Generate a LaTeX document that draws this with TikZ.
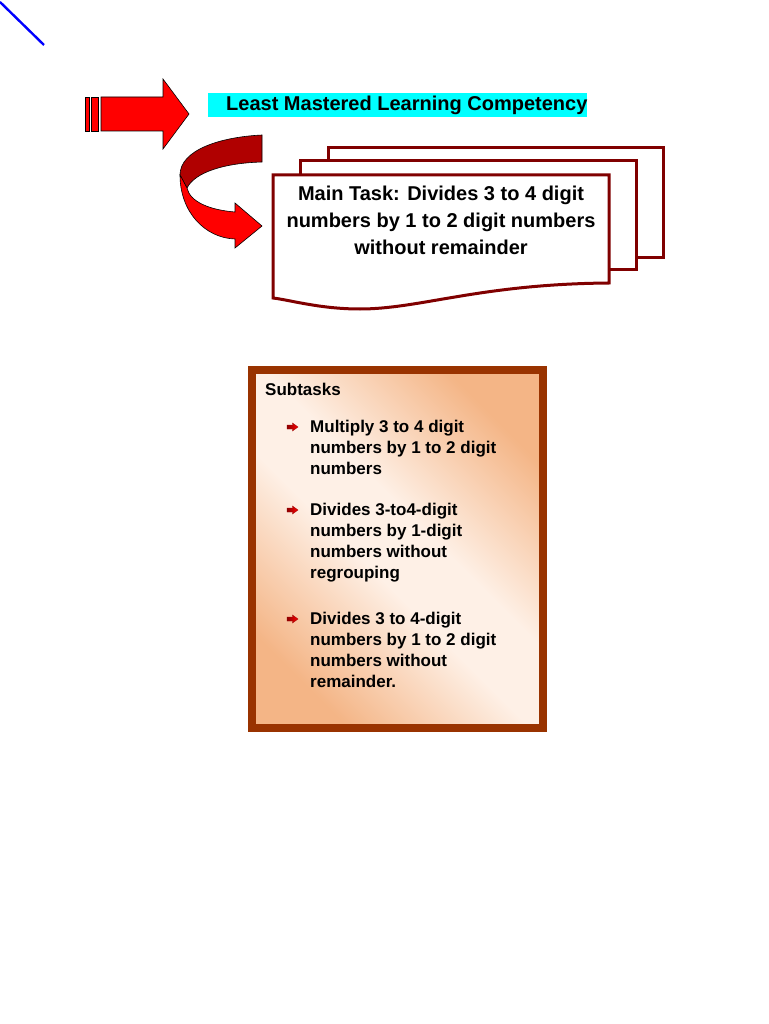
\documentclass[tikz,border=0pt]{standalone}
\usepackage{fontspec}
\setmainfont{Liberation Sans}
\definecolor{peach}{HTML}{F4B586}
\definecolor{peachlight}{HTML}{FEF0E6}
\pgfdeclareverticalshading{boxshade}{100bp}{color(0bp)=(peach); color(25bp)=(peach); color(45bp)=(peachlight); color(55bp)=(peachlight); color(75bp)=(peach); color(100bp)=(peach)}
\begin{document}
\begin{tikzpicture}[x=1pt,y=-1pt,
  docpage/.style={draw=docred,line width=3pt,fill=white,line join=miter},
  redshape/.style={fill=arrred,draw=black,line width=0.6pt,line join=miter},
  darkshape/.style={fill=arrdark,draw=black,line width=0.6pt},
  bigtxt/.style={font=\bfseries\fontsize{20}{27}\selectfont,inner sep=0pt},
  subtxt/.style={font=\bfseries\fontsize{17}{21}\selectfont,inner sep=0pt,align=left,anchor=north west},
  bul/.pic={\path[shading=axis,left color=arrdark!80!black,right color=arrred,draw=arrred!60!black,line width=0.3pt]
      (-5.5,-2) -- (0,-2) -- (0,-4) -- (5.5,0) -- (0,4) -- (0,2) -- (-5.5,2) -- cycle;}
]
\definecolor{docred}{HTML}{800000}
\definecolor{arrred}{HTML}{FF0000}
\definecolor{arrdark}{HTML}{B00000}
\definecolor{boxbrown}{HTML}{993300}
\definecolor{labelcyan}{HTML}{00FFFF}
\useasboundingbox (0,0) rectangle (768,1024);

% blue line
\coordinate (b1) at (0,2);
\coordinate (b2) at (44,45);
\draw[blue,line width=2.4pt] (b1) -- (b2);

% striped arrow
\path[redshape] (85,97) rectangle (89,131);
\path[redshape] (91,97) rectangle (98,131);
\path[redshape] (101,97) -- (163,97) -- (163,79) -- (189,114) -- (163,149) -- (163,131) -- (101,131) -- cycle;

% title label
\fill[labelcyan] (208,93) rectangle (587,117);
\node[bigtxt,anchor=base west] (title) at (226,111) {Least Mastered Learning Competency};

% curved arrow
\path[darkshape] (262,135) .. controls (220,137) and (180,150) .. (180,175)
   -- (187,188) .. controls (195,172) and (225,163) .. (262,162) -- cycle;
\path[redshape] (180,175) .. controls (180,212) and (205,238) .. (235,239)
   -- (235,248) -- (262,226) -- (235,203) -- (235,212)
   .. controls (210,210) and (190,202) .. (187,188) -- cycle;

% document stack
\path[docpage] (328,148) rectangle (663,257);
\path[docpage] (300,161) rectangle (636,269);
\path[docpage] (273,175) -- (609,175) -- (609,283)
   .. controls (480,284) and (420,309) .. (360,309)
   .. controls (320,309) and (290,300) .. (273,298) -- cycle;
\node[bigtxt,align=center,anchor=north] (main) at (441,185.5)
  {Main Task: Divides 3 to 4 digit\\numbers by 1 to 2 digit numbers\\without remainder};

% subtasks box
\path[draw=boxbrown,line width=8pt,shading=boxshade,shading angle=-45]
  (252,370) rectangle (543,728);
\node[font=\bfseries\fontsize{17}{21}\selectfont,inner sep=0pt,anchor=base west] (sub) at (265,395) {Subtasks};

\pic at (292.5,427) {bul};
\node[subtxt] (s1) at (310,420) {Multiply 3 to 4 digit\\numbers by 1 to 2 digit\\numbers};
\pic at (292.5,510) {bul};
\node[subtxt] (s2) at (310,503) {Divides 3-to4-digit\\numbers by 1-digit\\numbers without\\regrouping};
\pic at (292.5,619) {bul};
\node[subtxt] (s3) at (310,612) {Divides 3 to 4-digit\\numbers by 1 to 2 digit\\numbers without\\remainder.};
\end{tikzpicture}
\end{document}
